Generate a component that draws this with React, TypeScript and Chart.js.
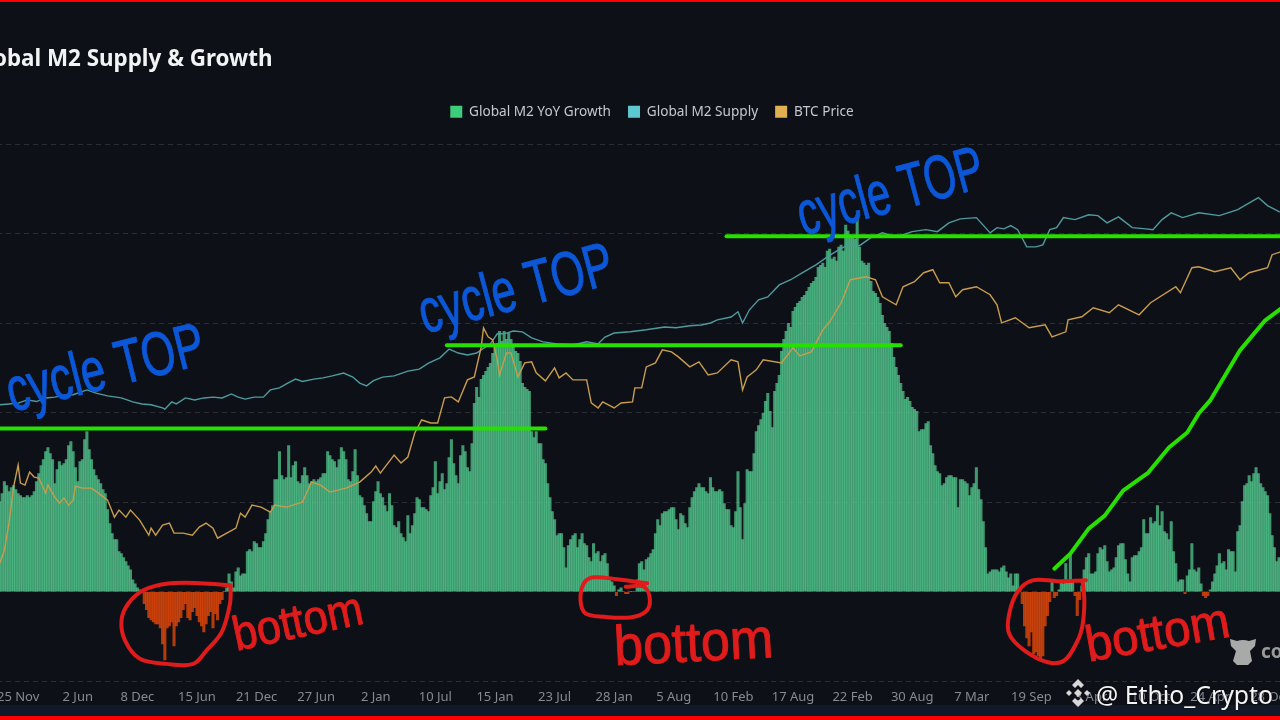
import React, { useEffect, useRef } from "react";
import { Chart, registerables } from "chart.js";

Chart.register(...registerables);

const chartTitle = "Global M2 Supply & Growth";
const tickLabels = ["25 Nov","2 Jun","8 Dec","15 Jun","21 Dec","27 Jun","2 Jan","10 Jul","15 Jan","23 Jul","28 Jan","5 Aug","10 Feb","17 Aug","22 Feb","30 Aug","7 Mar","19 Sep","3 Apr","10 Oct","24 Apr","28 Oct"];
const legendNames = ["Global M2 YoY Growth", "Global M2 Supply", "BTC Price"];
const legendSwatches = ["#3ecb7c", "#5cc8cf", "#dfb052"];

// Global M2 YoY growth, one value per week
const growthValues = [
4.5,4.9,5.5,5.3,5.0,5.2,5.3,5.1,4.9,4.8,4.7,4.7,4.8,4.7,4.8,5.0,5.5,5.9,6.3,6.6,
7.0,7.2,6.9,6.6,5.4,6.1,6.5,6.3,6.4,6.6,7.3,7.5,7.0,6.2,5.5,6.5,6.6,7.6,8.0,7.1,
6.6,6.1,5.8,5.6,5.4,5.1,4.9,4.1,3.4,2.9,2.6,2.6,2.0,1.9,1.7,1.5,1.3,1.1,0.6,0.4,
0.2,0.1,0,-0.6,-0.9,-1.3,-1.4,-1.5,-1.6,-1.6,-1.8,-2.6,-3.4,-1.8,-1.7,-1.5,-2.7,-1.7,-1.5,-1.3,
-0.9,-0.6,-1.3,-1.4,-1.0,-0.8,-1.2,-1.5,-1.7,-2.0,-1.6,-1.2,-1.0,-1.8,-1.1,-1.4,-0.6,-0.4,0,0.2,
0.9,0.5,0.2,1.0,1.2,0.8,0.9,0.9,2.0,2.1,2.0,2.5,2.4,2.2,2.2,2.5,2.9,3.6,4.0,4.3,
5.6,5.6,7.0,5.8,5.6,5.7,7.3,5.7,6.3,6.5,5.5,5.4,5.8,6.2,5.8,5.4,5.5,5.6,5.5,5.6,
5.7,5.9,5.9,7.0,6.8,6.6,6.5,6.2,6.6,7.2,7.0,6.6,5.6,5.5,6.0,7.1,5.8,4.8,4.7,4.3,
3.9,3.5,3.5,4.5,5.0,5.5,4.9,4.7,4.3,4.0,4.9,4.3,3.3,3.2,3.5,2.9,2.7,2.5,3.8,2.9,
3.3,3.9,4.7,4.6,4.2,4.2,4.1,4.0,4.8,5.2,6.5,4.9,5.5,5.9,5.1,5.4,6.7,7.6,6.4,5.8,
5.4,6.8,7.3,7.0,6.2,6.0,7.4,9.4,10.2,9.7,10.6,10.8,11.0,11.2,11.4,11.9,12.2,12.4,13.0,12.5,
13.0,12.6,12.9,12.6,12.3,12.0,11.9,11.5,10.4,10.2,10.1,10.0,8.0,7.7,8.0,7.4,7.4,6.6,6.4,5.4,
4.7,4.0,3.6,2.8,2.9,2.9,2.2,1.2,2.3,2.6,2.8,2.9,2.2,2.6,2.9,2.4,2.3,1.7,1.5,2.4,
1.9,2.0,1.5,1.8,1.9,1.4,0.6,0.5,0.3,-0.2,0.1,0.2,0,-0.1,-0.1,0,0,0,0.6,1.4,
1.5,1.1,1.6,1.7,1.9,2.1,2.9,3.6,3.3,3.9,4.0,4.0,4.1,4.2,4.2,3.6,3.1,3.9,3.8,3.4,
3.2,4.2,4.7,5.0,5.2,5.4,5.2,5.2,5.0,4.9,5.7,5.2,5.0,5.0,5.1,5.0,4.4,4.1,4.1,3.3,
3.2,4.0,6.0,4.2,2.6,4.4,6.1,6.0,6.0,6.9,8.0,8.3,8.6,8.9,9.5,9.9,9.0,8.2,10.0,10.4,
10.8,12.0,12.6,13.0,13.4,13.2,14.0,14.2,14.4,14.5,14.7,14.8,15.0,15.2,15.4,15.5,15.7,16.2,16.3,16.4,
16.2,17.0,17.1,16.6,16.7,16.5,17.2,17.3,17.0,18.3,18.0,17.8,17.7,17.6,18.8,17.2,16.5,16.4,16.3,16.4,
15.5,15.0,14.9,14.7,14.4,13.8,13.4,13.2,13.0,12.4,11.7,11.2,10.8,10.4,10.0,9.6,9.7,9.5,9.2,9.1,
9.0,8.0,8.1,8.1,8.4,8.5,7.3,6.9,6.3,6.0,5.9,5.3,5.4,5.7,5.8,5.8,5.7,5.7,4.2,5.6,
5.6,5.5,5.4,4.8,5.2,5.4,6.2,5.1,4.6,3.5,2.2,0.9,1.0,1.1,1.1,1.1,1.0,1.2,1.3,1.0,
0.7,0.9,0.3,0.9,0.9,0.1,-0.6,-1.7,-2.3,-2.7,-2.0,-3.1,-3.0,-3.2,-3.3,-3.2,-1.7,-1.2,-0.5,0.5,
-0.3,-0.2,0.1,0.5,0.4,1.4,0.6,1.9,0.6,-0.2,-1.2,-0.4,0.3,1.1,1.7,1.9,0.9,0.9,1.0,1.9,
2.2,2.1,2.3,1.5,1.0,1.1,1.2,1.7,2.3,2.4,2.4,1.6,0.9,0.5,1.7,1.8,1.8,2.0,2.2,3.6,
2.9,2.9,3.7,3.4,3.5,4.3,3.3,4.0,3.0,2.9,2.6,3.5,2.0,1.4,0.5,0.6,0.6,-0.1,0.8,1.1,
2.4,1.1,1.0,1.2,0.4,-0.2,-0.3,-0.2,0.1,0.5,0.9,1.3,1.9,1.4,1.5,1.1,2.1,2.0,2.0,1.0,
3.0,3.3,4.5,5.3,5.4,5.8,5.5,5.9,6.2,5.9,5.4,5.2,5.0,4.8,3.9,2.8,2.2,1.5,1.7,1.6
];

// Global M2 supply, trillions, read at these weeks
const m2Weeks = [0,4,8,12,16,20,24,28,32,38,42,47,53,58,62,66,71,72,75,77,81,85,89,93,97,101,104,107,111,115,118,122,125,129,132,137,141,145,150,154,157,160,163,167,172,178,183,187,192,196,200,204,208,210,214,217,220,224,228,232,237,243,250,256,261,264,268,275,282,290,295,301,306,310,313,319,322,324,327,331,335,340,345,350,356,361,366,370,375,380,385,391,398,404,409,414,419,426,432,435,438,441,444,448,452,455,458,461,464,469,475,479,483,488,494,500,503,507,511,516,523,532,540,549,553,558,565];
const m2Values = [58.8,59.0,59.2,60.0,59.6,60.5,60.7,61.2,61.3,62.5,61.7,61.0,60.5,59.5,59.0,58.8,58.0,57.7,59.5,59.0,60.5,60.0,60.5,60.7,60.5,61.5,60.7,60.2,60.7,60.7,62.5,63.0,64.0,65.2,64.6,65.2,65.5,66.0,66.7,65.7,64.2,63.5,64.8,65.7,66.0,67.2,67.7,69.2,70.5,72.7,71.7,71.2,71.7,72.5,74.0,76.5,76.5,77.2,77.0,75.5,74.5,74.0,73.7,74.5,74.0,75.7,76.7,77.0,77.5,78.2,78.0,78.5,78.7,79.2,80.0,80.7,82.0,79.2,82.5,85.0,85.7,88.7,90.0,91.7,93.7,95.7,97.5,98.7,98.5,100.5,101.7,100.7,102.0,102.5,102.0,104.2,105.2,105.5,101.7,103.0,102.7,103.5,102.5,98.2,98.2,98.7,102.5,103.0,105.5,105.0,106.2,106.0,104.2,105.7,103.0,102.7,102.5,105.0,106.7,105.5,106.7,106.0,107.5,110.5,108.5,107.0,106.0];

// BTC price as log10(USD), read at these weeks
const btcWeeks = [0,2,4,6,8,9,11,13,15,17,20,21,24,26,28,30,32,33,36,40,43,47,50,52,55,57,61,65,66,68,71,74,76,80,84,87,90,93,95,99,103,105,107,110,114,118,120,125,132,136,140,144,151,157,162,164,166,172,175,178,181,184,188,191,194,197,200,204,207,210,211,213,215,217,218,221,223,226,229,232,234,238,242,244,247,250,256,258,261,263,268,271,276,277,280,282,286,289,293,296,301,305,309,313,319,322,324,326,330,333,341,346,349,354,359,362,367,371,378,382,385,391,394,399,403,407,410,414,417,420,426,432,435,437,443,449,456,459,465,466,472,477,484,488,497,502,513,515,520,523,530,537,541,545,553,555,559,568];
const btcValues = [1.92,2.05,2.32,2.68,2.90,2.72,2.70,2.83,2.78,2.77,2.62,2.70,2.58,2.52,2.57,2.50,2.55,2.69,2.67,2.67,2.62,2.55,2.38,2.45,2.38,2.45,2.35,2.20,2.27,2.20,2.30,2.32,2.22,2.22,2.20,2.28,2.32,2.27,2.17,2.22,2.27,2.42,2.38,2.50,2.48,2.43,2.50,2.48,2.53,2.73,2.70,2.63,2.67,2.73,2.83,2.89,2.82,3.00,2.92,2.98,3.22,3.35,3.32,3.32,3.57,3.58,3.53,3.75,3.78,4.08,4.27,4.18,4.15,3.95,3.80,4.02,4.02,3.78,3.92,3.93,3.82,3.74,3.87,3.77,3.82,3.75,3.75,3.52,3.47,3.53,3.47,3.52,3.53,3.67,3.67,3.88,3.92,4.05,4.03,3.98,3.88,3.93,3.80,3.82,3.95,3.93,3.65,3.78,3.85,3.95,3.92,4.07,3.99,4.03,4.25,4.33,4.52,4.75,4.78,4.75,4.58,4.50,4.68,4.73,4.82,4.85,4.72,4.72,4.58,4.65,4.68,4.60,4.50,4.32,4.37,4.27,4.30,4.18,4.23,4.35,4.38,4.47,4.42,4.50,4.40,4.52,4.68,4.62,4.87,4.88,4.83,4.87,4.75,4.82,4.87,5.00,5.03,5.05];

// hand-drawn markup, in chart coordinates (week, growth)
const greenLineA = { weeks: [-13, 238], levels: [8.15, 8.15] };
const greenLineB = { weeks: [195, 393], levels: [12.3, 12.3] };
const greenLineC = { weeks: [317, 582], levels: [17.75, 17.75] };
const greenTrendWeeks = [460,467,475,482,490,501,510,518,523,528,541,552,559];
const greenTrendLevels = [1.15,1.9,3.15,3.8,5.05,5.95,7.2,7.95,8.9,9.55,12.05,13.55,14.15];
const loopAWeeks = [100.4,87.3,72.8,62.6,56,53.1,54.6,61.1,72.8,84.4,90.2,96.8,100.4,100.7];
const loopALevels = [0.32,0.43,0.4,0.07,-0.6,-1.43,-2.43,-3.35,-3.6,-3.6,-2.93,-2.02,-0.6,0.32];
const loopBWeeks = [282.4,269.3,259.1,254.8,253.3,255.5,263.5,275.1,281.7,283.6,281,273];
const loopBLevels = [0.42,0.62,0.72,0.42,-0.42,-1.08,-1.25,-1.28,-1,-0.42,0.25,0.25];
const loopCWeeks = [473.8,461.4,450.5,444,440.3,440.3,446.9,457.1,464.4,470.2,472.4,473.1,472.4];
const loopCLevels = [0.57,0.53,0.57,0,-1.1,-2.1,-2.93,-3.52,-3.43,-2.43,-1.6,-0.43,0.48];

const notes = [
  { text: "cycle TOP", week: 3.5, level: 9.8, size: 62, angle: -14, color: "#0b57d8", sx: 0.71 },
  { text: "cycle TOP", week: 183.4, level: 13.7, size: 62, angle: -15, color: "#0b57d8", sx: 0.7 },
  { text: "cycle TOP", week: 348.5, level: 18.6, size: 62, angle: -15, color: "#0b57d8", sx: 0.67 },
  { text: "bottom", week: 102, level: -2.3, size: 48, angle: -12, color: "#e01b1b", sx: 0.9 },
  { text: "bottom", week: 268, level: -2.9, size: 56, angle: -3, color: "#e01b1b", sx: 0.93 },
  { text: "bottom", week: 474, level: -2.8, size: 50, angle: -10, color: "#e01b1b", sx: 0.95 },
];

const toPoints = (xs: number[], ys: number[]) => xs.map((x, i) => ({ x, y: ys[i] }));
const growthPoints = growthValues.map((y, i) => ({ x: i, y }));

const FONT = '"Noto Sans", sans-serif';
const GREEN_MARK = "#27e000";
const RED_MARK = "#e01b1b";
const AREA_TOP = 129;
const AREA_BOTTOM = 681;
const ZERO_Y = 591.5;

const markup = (label: string, xs: number[], ys: number[], color: string, width: number, tension = 0) => ({
  type: "line" as const,
  label,
  data: toPoints(xs, ys),
  borderColor: color,
  backgroundColor: color,
  borderWidth: width,
  pointRadius: 0,
  tension,
  borderCapStyle: "round" as const,
  borderJoinStyle: "round" as const,
  yAxisID: "y",
  order: 0,
});

const notesPlugin = {
  id: "handNotes",
  afterDatasetsDraw(chart: any) {
    const { ctx, scales } = chart;
    ctx.save();
    for (const n of notes) {
      ctx.save();
      ctx.translate(scales.x.getPixelForValue(n.week), scales.y.getPixelForValue(n.level));
      ctx.rotate((n.angle * Math.PI) / 180);
      ctx.scale(n.sx, 1);
      ctx.font = `${n.size}px "Liberation Sans", sans-serif`;
      ctx.fillStyle = n.color;
      ctx.strokeStyle = n.color;
      ctx.lineWidth = 1;
      ctx.lineJoin = "round";
      ctx.strokeText(n.text, 0, 0);
      ctx.fillText(n.text, 0, 0);
      ctx.restore();
    }
    ctx.restore();
  },
};

export default function App() {
  const ref = useRef<HTMLCanvasElement>(null);
  useEffect(() => {
    document.body.style.margin = "0";
    const chart = new Chart(ref.current!, {
      type: "bar",
      data: {
        datasets: [
          {
            type: "bar",
            label: legendNames[0],
            data: growthPoints,
            backgroundColor: (c: any) => (c.raw && c.raw.y < 0 ? "rgba(222,70,10,0.8)" : "rgba(84,205,145,0.72)"),
            barThickness: 2.4,
            yAxisID: "y",
            order: 5,
          },
          {
            type: "line",
            label: legendNames[1],
            data: toPoints(m2Weeks, m2Values),
            borderColor: "#4f9a9e",
            backgroundColor: "#5cc8cf",
            borderWidth: 1.4,
            pointRadius: 0,
            yAxisID: "yM2",
            order: 2,
          },
          {
            type: "line",
            label: legendNames[2],
            data: toPoints(btcWeeks, btcValues),
            borderColor: "#c99c4e",
            backgroundColor: "#dfb052",
            borderWidth: 1.4,
            pointRadius: 0,
            yAxisID: "yBtc",
            order: 1,
          },
          markup("trend", greenTrendWeeks, greenTrendLevels, GREEN_MARK, 4),
          markup("levelA", greenLineA.weeks, greenLineA.levels, GREEN_MARK, 4),
          markup("levelB", greenLineB.weeks, greenLineB.levels, GREEN_MARK, 4),
          markup("levelC", greenLineC.weeks, greenLineC.levels, GREEN_MARK, 4),
          markup("loopA", loopAWeeks, loopALevels, RED_MARK, 4, 0.35),
          markup("loopB", loopBWeeks, loopBLevels, RED_MARK, 4, 0.35),
          markup("loopC", loopCWeeks, loopCLevels, RED_MARK, 4, 0.35),
        ] as any,
      },
      options: {
        animation: false,
        responsive: false,
        layout: { padding: { top: 0, bottom: 15, left: 0, right: 0 } },
        plugins: {
          tooltip: { enabled: false },
          title: {
            display: true,
            text: chartTitle,
            align: "start",
            color: "#f2f3f5",
            font: { family: FONT, size: 22.4, weight: "bold" },
            padding: { top: 46, bottom: 15 },
          },
          legend: {
            display: true,
            position: "top",
            labels: {
              color: "#c4c8cf",
              font: { family: FONT, size: 13.6 },
              boxWidth: 12,
              boxHeight: 12,
              padding: 17,
              generateLabels: (c: any) =>
                legendNames.map((text, i) => ({
                  text,
                  datasetIndex: i,
                  fillStyle: legendSwatches[i],
                  strokeStyle: legendSwatches[i],
                  fontColor: "#c4c8cf",
                  lineWidth: 0,
                  hidden: false,
                })),
            },
          },
        },
        scales: {
          x: {
            type: "linear",
            offset: false,
            min: -13,
            max: 582,
            grid: { display: false, offset: false },
            border: { display: false },
            afterBuildTicks: (axis: any) => {
              axis.ticks = tickLabels.map((_, j) => ({ value: 8 + 26 * j }));
            },
            afterFit: (axis: any) => {
              axis.paddingLeft = 0;
              axis.paddingRight = 0;
            },
            ticks: {
              color: "#858a93",
              font: { family: FONT, size: 13 },
              maxRotation: 0,
              autoSkip: false,
              padding: 0,
              callback: (v: any) => tickLabels[(Number(v) - 8) / 26],
            },
          },
          y: {
            type: "linear",
            min: (ZERO_Y - AREA_BOTTOM) / 20,
            max: (ZERO_Y - AREA_TOP) / 20,
            border: { display: false, dash: [5, 4] },
            afterBuildTicks: (axis: any) => {
              axis.ticks = [-1, 0, 1, 2, 3, 4, 5].map((j) => ({ value: j * 4.4667 }));
            },
            afterFit: (axis: any) => {
              axis.width = 0;
            },
            grid: { color: "#2a2e34", lineWidth: 1, tickLength: 0, drawTicks: false },
            ticks: { display: false },
          },
          yM2: { type: "linear", min: 160 - AREA_BOTTOM / 4, max: 160 - AREA_TOP / 4, display: false },
          yBtc: { type: "linear", min: 7.55 - AREA_BOTTOM / 100, max: 7.55 - AREA_TOP / 100, display: false },
        },
      } as any,
      plugins: [notesPlugin],
    });
    return () => chart.destroy();
  }, []);

  return (
    <div style={{ position: "relative", width: 1280, height: 720, overflow: "hidden", background: "#0d1117" }}>
      <div style={{ position: "absolute", left: 0, right: 0, top: 705, height: 11, background: "#121a29" }} />
      <canvas ref={ref} width={1364} height={720} style={{ position: "absolute", left: -30, top: 0, width: 1364, height: 720 }} />
      <div style={{ position: "absolute", left: 0, right: 0, top: 0, height: 2, background: "#ff0000" }} />
      <div style={{ position: "absolute", left: 0, right: 0, top: 716, height: 4, background: "#ff0000" }} />
      <svg width="30" height="30" viewBox="0 0 30 30" style={{ position: "absolute", left: 1063, top: 678 }}>
        <g fill="#d8d8d8">
          <polygon points="15,1 21,7 18,10 15,7 12,10 9,7" />
          <polygon points="15,29 21,23 18,20 15,23 12,20 9,23" />
          <polygon points="3,15 6,12 9,15 6,18" />
          <polygon points="27,15 24,12 21,15 24,18" />
          <polygon points="15,11 19,15 15,19 11,15" />
        </g>
      </svg>
      <div style={{ position: "absolute", left: 1096, top: 677, color: "#f4f4f4", font: `24.8px ${FONT}`, whiteSpace: "nowrap", textShadow: "0 0 2px #000" }}>
        @ Ethio_Crypto
      </div>
      <svg width="30" height="36" viewBox="0 0 30 36" style={{ position: "absolute", left: 1228, top: 633 }}>
        <path d="M2 6 L9 8 Q15 6 21 8 L28 6 L27 13 L22 18 L24 28 L20 32 L9 32 L5 28 L8 18 L3 13 Z" fill="#a9a9a9" />
      </svg>
      <div style={{ position: "absolute", left: 1261, top: 638, color: "#9a9a9a", font: `bold 19px ${FONT}`, whiteSpace: "nowrap" }}>co</div>
    </div>
  );
}
